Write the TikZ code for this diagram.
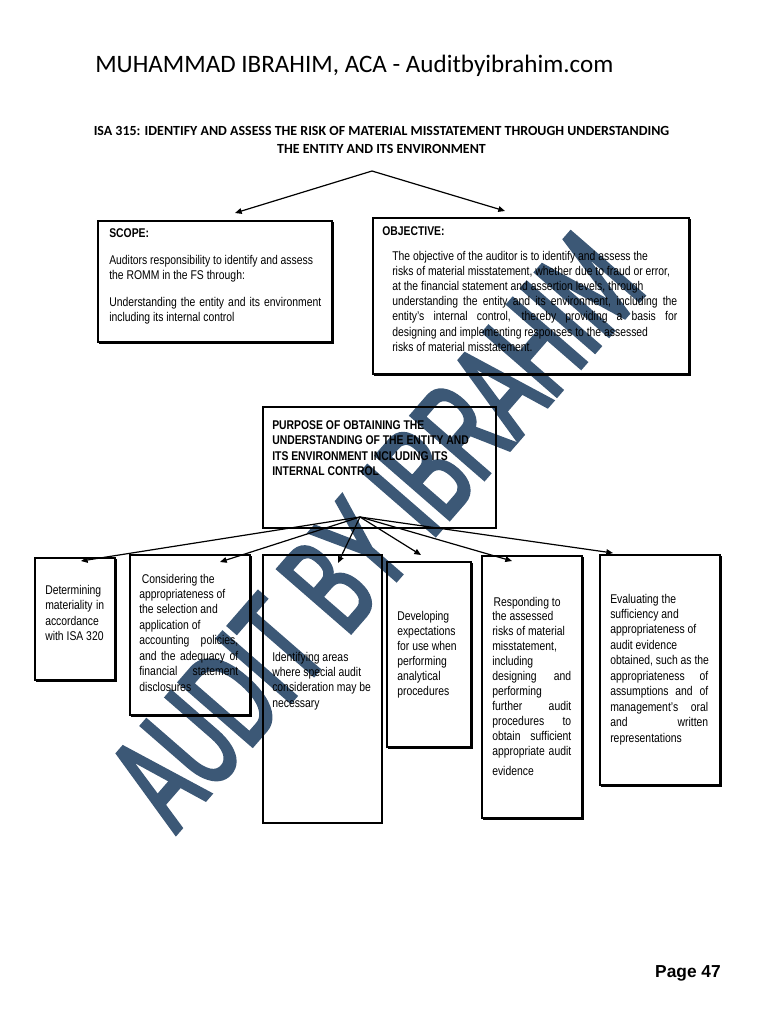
\documentclass[tikz,border=0pt]{standalone}
\usepackage{fontspec}
\setmainfont{Liberation Sans}
\newfontfamily\calibri{Carlito}
\newfontfamily\nar[FakeStretch=0.82]{Liberation Sans}
\newfontfamily\wmfont[FakeStretch=0.565,FakeBold=2.5]{Liberation Sans}
\usetikzlibrary{arrows.meta,fit,calc}
\definecolor{wm}{RGB}{60,88,118}
\newcommand\J[1]{\makebox[\linewidth][s]{#1}}
\newcommand\tb[4]{\parbox[t]{#1}{\nar\fontsize{#2}{#3}\selectfont\parindent0pt\raggedright #4}}
\tikzset{
  box/.style={draw, line width=0.8pt, inner sep=0pt},
  conn/.style={line width=0.9pt, -{Triangle[length=5pt,width=4.2pt]}},
  shadowline/.style={line width=1pt},
  txt/.style={inner sep=0pt, anchor=base west},
}
\newcommand\shadowL[1]{\draw[shadowline] ([shift={(0.8pt,-1.3pt)}]#1.north east) |- ([shift={(1.3pt,-0.8pt)}]#1.south west);}
\begin{document}
\begin{tikzpicture}[x=0.75pt,y=-0.75pt]
\useasboundingbox (0,0) rectangle (768,1024);
% watermark
\node[wm, inner sep=0pt, rotate=49, font=\wmfont\fontsize{105.5}{105.5}\selectfont] (wmark) at (376,531) {AUDIT BY IBRAHIM};
% header
\node[txt, font=\calibri\fontsize{18.8}{22}\selectfont] (header) at (95,73) {MUHAMMAD IBRAHIM, ACA - Auditbyibrahim.com};
\node[inner sep=0pt, anchor=base, align=center, font=\calibri\bfseries\fontsize{10.45}{13.5}\selectfont] (title) at (381.5,153)
  {ISA 315: IDENTIFY AND ASSESS THE RISK OF MATERIAL MISSTATEMENT THROUGH UNDERSTANDING\\THE ENTITY AND ITS ENVIRONMENT};
% boxes
\coordinate (s1) at (98,221); \coordinate (s2) at (332,342);
\node[box, fit=(s1)(s2)] (scope) {};
\coordinate (o1) at (373,218); \coordinate (o2) at (689,374);
\node[box, fit=(o1)(o2)] (objective) {};
\coordinate (p1) at (263,407); \coordinate (p2) at (496,528);
\node[box, fit=(p1)(p2)] (purpose) {};
\coordinate (a1) at (35,558); \coordinate (a2) at (115,680);
\node[box, fit=(a1)(a2)] (b1) {};
\coordinate (c1) at (130,555); \coordinate (c2) at (250,715);
\node[box, fit=(c1)(c2)] (b2) {};
\coordinate (d1) at (263,555); \coordinate (d2) at (382,823);
\node[box, fit=(d1)(d2)] (b3) {};
\coordinate (e1) at (387,562); \coordinate (e2) at (471,747);
\node[box, fit=(e1)(e2)] (b4) {};
\coordinate (f1) at (482,556); \coordinate (f2) at (582,818);
\node[box, fit=(f1)(f2)] (b5) {};
\coordinate (g1) at (600,555); \coordinate (g2) at (720,785);
\node[box, fit=(g1)(g2)] (b6) {};
\shadowL{scope}\shadowL{objective}\shadowL{b1}\shadowL{b2}\shadowL{b4}\shadowL{b5}\shadowL{b6}
% texts
\node[txt, font=\nar\bfseries\fontsize{9.5}{11}\selectfont] (scopehead) at (109,237) {SCOPE:};
\node[txt] (scopeA) at (109,264) {\tb{160pt}{9.5}{11.4}{\mbox{Auditors responsibility to identify and assess}\\ \mbox{the ROMM in the FS through:}}};
\node[txt] (scopeB) at (109,306) {\tb{159pt}{9.5}{11.4}{\J{Understanding the entity and its environment}\\ \mbox{including its internal control}}};
\node[txt, font=\nar\bfseries\fontsize{9.5}{11}\selectfont] (objhead) at (382,235) {OBJECTIVE:};
\node[txt] (objtext) at (392,260) {\tb{213.75pt}{9.5}{11.4}{\mbox{The objective of the auditor is to identify and assess the}\\
 \mbox{risks of material misstatement, whether due to fraud or error,}\\
 \mbox{at the financial statement and assertion levels, through}\\
 \J{understanding the entity and its environment, including the}\\
 \J{entity’s internal control, thereby providing a basis for}\\
 \mbox{designing and implementing responses to the assessed}\\
 \mbox{risks of material misstatement.}}};
\node[txt] (purtext) at (272,429) {\tb{180pt}{9.5}{11.7}{\bfseries \mbox{PURPOSE OF OBTAINING THE}\\
 \mbox{UNDERSTANDING OF THE ENTITY AND}\\ \mbox{ITS ENVIRONMENT INCLUDING ITS}\\ \mbox{INTERNAL CONTROL}}};
\node[txt] (t1) at (45,594) {\tb{44.25pt}{9.5}{11.7}{\mbox{Determining}\\ \J{materiality in}\\ \mbox{accordance}\\ \mbox{with ISA 320}}};
\node[txt] (t2) at (139,583) {\tb{74.25pt}{9.5}{11.6}{\mbox{\hspace{2pt}Considering the}\\ \mbox{appropriateness of}\\ \mbox{the selection and}\\ \mbox{application of}\\
 \J{accounting policies,}\\ \J{and the adequacy of}\\ \J{financial statement}\\ \mbox{disclosures}}};
\node[txt] (t3) at (272,661) {\tb{85pt}{9.5}{11.5}{\mbox{Identifying areas}\\ \mbox{where special audit}\\ \mbox{consideration may be}\\ \mbox{necessary}}};
\node[txt] (t4) at (397,620) {\tb{55pt}{9.5}{11.3}{\mbox{Developing}\\ \mbox{expectations}\\ \mbox{for use when}\\ \mbox{performing}\\ \mbox{analytical}\\ \mbox{procedures}}};
\node[txt] (t5) at (492,606) {\tb{59.25pt}{9.5}{11.2}{\mbox{\hspace{1pt}Responding to}\\ \mbox{the assessed}\\ \mbox{risks of material}\\ \mbox{misstatement,}\\ \mbox{including}\\
 \J{designing and}\\ \mbox{performing}\\ \J{further audit}\\ \J{procedures to}\\ \J{obtain sufficient}\\ \J{appropriate audit}\\[4pt] \mbox{evidence}}};
\node[txt] (t6) at (610,603) {\tb{73.5pt}{9.5}{11.6}{\mbox{Evaluating the}\\ \mbox{sufficiency and}\\ \mbox{appropriateness of}\\ \mbox{audit evidence}\\ \mbox{obtained, such as the}\\
 \J{appropriateness of}\\ \J{assumptions and of}\\ \J{management’s oral}\\ \J{and written}\\ \mbox{representations}}};
\node[anchor=base east, inner sep=0pt, font=\bfseries\fontsize{13}{15}\selectfont] (page) at (721,977) {Page 47};
% connectors
\coordinate (apex) at (372,171);
\coordinate (scopetip) at (235,213);
\coordinate (objtip) at (505,211);
\draw[conn] (apex) -- (scopetip);
\draw[conn] (apex) -- (objtip);
\coordinate (hub) at (360,517);
\coordinate (h1) at (81,561);
\coordinate (h2) at (220,562);
\coordinate (h3) at (338,563);
\coordinate (h4) at (421,555);
\coordinate (h5) at (512,561);
\coordinate (h6) at (613,553);
\foreach \k in {1,...,6} {\draw[conn] (hub) -- (h\k);}
\end{tikzpicture}
\end{document}
